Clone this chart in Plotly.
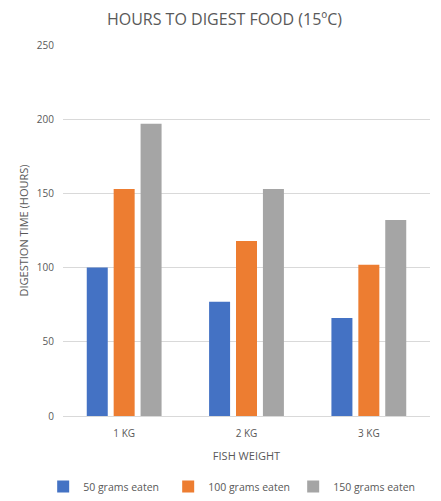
import plotly.graph_objects as go

categories = ["1 KG", "2 KG", "3 KG"]
series_names = ["50 grams eaten", "100 grams eaten", "150 grams eaten"]
grams_50 = [100, 77, 66]
grams_100 = [153, 118, 102]
grams_150 = [197, 153, 132]
y_ticks = [0, 50, 100, 150, 200, 250]

colors = ["#4472C4", "#ED7D31", "#A5A5A5"]
text_color = "#595959"
font_name = "Open Sans"

fig = go.Figure()
for name, values, color in zip(series_names, [grams_50, grams_100, grams_150], colors):
    fig.add_trace(go.Bar(x=categories, y=values, name=name, marker=dict(color=color, line=dict(width=0))))

# page has an 8px body margin, so the figure is drawn 8px smaller
fig.update_layout(
    width=433,
    height=493,
    barmode="group",
    bargap=0.34,
    bargroupgap=0.22,
    plot_bgcolor="white",
    paper_bgcolor="white",
    font=dict(family=font_name, size=11, color=text_color),
    title=dict(text="HOURS TO DIGEST FOOD (15ºC)", x=0.5, xref="container", xanchor="center",
               y=0.976, yanchor="middle", font=dict(size=16, color=text_color)),
    margin=dict(l=55, r=11, t=37, b=85, autoexpand=False),
    xaxis=dict(
        title=dict(text="FISH WEIGHT", font=dict(size=11, color=text_color), standoff=13),
        showgrid=False,
        showline=True,
        linecolor="#d9d9d9",
        ticks="outside",
        ticklen=8,
        tickcolor="rgba(0,0,0,0)",
        tickfont=dict(size=10, color=text_color),
    ),
    yaxis=dict(
        title=dict(text="DIGESTION TIME (HOURS)", font=dict(size=11, color=text_color), standoff=5),
        range=[0, 250],
        tickvals=y_ticks,
        showgrid=True,
        gridcolor="#d9d9d9",
        zeroline=False,
        ticks="outside",
        ticklen=6,
        tickcolor="rgba(0,0,0,0)",
        tickfont=dict(size=10, color=text_color),
    ),
    legend=dict(
        orientation="h",
        x=-0.054,
        xanchor="left",
        y=-0.19,
        yanchor="middle",
        font=dict(size=10.5, color=text_color),
        itemwidth=30,
        entrywidth=80,
        entrywidthmode="pixels",
        tracegroupgap=0,
    ),
)

fig.write_html("out.html")
